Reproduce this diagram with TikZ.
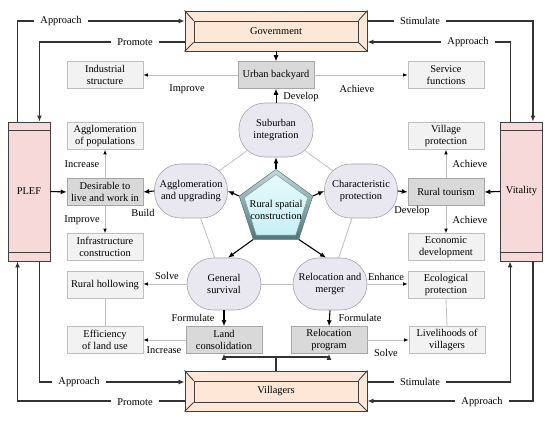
\documentclass[tikz,border=0pt]{standalone}
\usepackage{fontspec}
\setmainfont{Liberation Serif}
\usetikzlibrary{arrows.meta,shapes.geometric,calc}
\definecolor{lgf}{HTML}{F2F2F2}
\definecolor{lgb}{HTML}{BFBFBF}
\definecolor{dgf}{HTML}{D9D9D9}
\definecolor{dgb}{HTML}{A6A6A6}
\definecolor{elf}{HTML}{E9E7F0}
\definecolor{elb}{HTML}{A5A5A5}
\definecolor{glc}{HTML}{C0C0C0}
\definecolor{loopc}{HTML}{333333}
\definecolor{peach}{HTML}{FDE7D6}
\definecolor{pinkf}{HTML}{F8D9D9}
\definecolor{bevb}{HTML}{404040}
\definecolor{pentl}{HTML}{C2DADC}
\definecolor{pentd}{HTML}{527679}
\definecolor{cyant}{HTML}{E6FAFC}
\definecolor{cyanb}{HTML}{C6F0F5}
\pgfdeclarelayer{bg}
\pgfsetlayers{bg,main}
\begin{document}
\begin{tikzpicture}[x=1pt,y=-1pt,
  font=\fontsize{10.4}{12.5}\selectfont,
  lbox/.style={draw=lgb, fill=lgf, minimum width=76pt, minimum height=27pt, align=center, inner sep=1pt, line width=0.6pt},
  dbox/.style={lbox, draw=dgb, fill=dgf},
  ell/.style={rectangle, rounded corners=26pt, draw=elb, fill=elf, minimum width=74pt, minimum height=54pt, inner sep=0pt, align=center, line width=0.6pt},
  bev/.style={draw=bevb, fill=peach, line width=0.9pt, inner sep=0pt},
  side/.style={draw=bevb, fill=pinkf, line width=0.9pt, inner sep=0pt, minimum width=42pt, minimum height=139pt},
  glink/.style={draw=glc, line width=0.8pt, -{Latex[length=4.5pt,width=3.5pt,black]}},
  gline/.style={draw=glc, line width=0.8pt},
  blink/.style={draw=black, line width=1.1pt, -{Latex[length=6pt,width=5pt]}},
  loopl/.style={draw=loopc, line width=1.1pt, -{Latex[length=6pt,width=5pt]}},
  lab/.style={inner sep=1pt},
  llab/.style={fill=white, inner xsep=6pt, inner ysep=1pt},
]
\useasboundingbox (0,0) rectangle (550,425);

% ---- bevel boxes ----
\node[bev, minimum width=182pt, minimum height=40pt] (gov) at (276,31) {};
\node[bev, minimum width=164pt, minimum height=21pt] (govi) at (276,31.5) {Government};
\draw[bevb, line width=0.9pt] (gov.north west) -- (govi.north west) (gov.north east) -- (govi.north east)
  (gov.south west) -- (govi.south west) (gov.south east) -- (govi.south east);

\node[bev, minimum width=182pt, minimum height=40pt] (vil) at (276,391) {};
\node[bev, minimum width=164pt, minimum height=21pt] (vili) at (276,391.5) {Villagers};
\draw[bevb, line width=0.9pt] (vil.north west) -- (vili.north west) (vil.north east) -- (vili.north east)
  (vil.south west) -- (vili.south west) (vil.south east) -- (vili.south east);

% ---- side boxes ----
\node[side] (plef) at (29,191.5) {PLEF};
\draw[bevb, line width=0.9pt] ([yshift=-9pt]plef.north west) -- ([yshift=-9pt]plef.north east)
  ([yshift=9pt]plef.south west) -- ([yshift=9pt]plef.south east);
\node[side] (vit) at (521.5,191.5) {Vitality};
\draw[bevb, line width=0.9pt] ([yshift=-9pt]vit.north west) -- ([yshift=-9pt]vit.north east)
  ([yshift=9pt]vit.south west) -- ([yshift=9pt]vit.south east);

% ---- outer loops ----
\draw[loopl] ([xshift=10pt]plef.north west) |- ([yshift=10pt]gov.west);
\draw[loopl] ([yshift=-11pt]gov.west) -| ([xshift=-11pt]plef.north east);
\draw[loopl] ([yshift=10pt]gov.east) -| ([xshift=-10pt]vit.north east);
\draw[loopl] ([xshift=10pt]vit.north west) |- ([yshift=-11pt]gov.east);
\draw[loopl] ([xshift=-11pt]plef.south east) |- ([yshift=9pt]vil.west);
\draw[loopl] ([yshift=-10pt]vil.west) -| ([xshift=10pt]plef.south west);
\draw[loopl] ([yshift=9pt]vil.east) -| ([xshift=10pt]vit.south west);
\draw[loopl] ([xshift=-10pt]vit.south east) |- ([yshift=-10pt]vil.east);
\node[llab] (l1) at (61,21) {Approach};
\node[llab] (l2) at (135,42) {Promote};
\node[llab] (l3) at (420,21) {Stimulate};
\node[llab] (l4) at (468,42) {Approach};
\node[llab] (l5) at (79,382) {Approach};
\node[llab] (l6) at (135,402) {Promote};
\node[llab] (l7) at (420,382) {Stimulate};
\node[llab] (l8) at (482,402) {Approach};

% ---- boxes ----
\node[dbox] (ub) at (276,75) {Urban backyard};
\node[lbox] (ind) at (105,75) {Industrial\\structure};
\node[lbox] (sf) at (446,75) {Service\\functions};
\node[lbox] (ap) at (105,136) {Agglomeration\\of populations};
\node[dbox] (des) at (105,192) {Desirable to\\live and work in};
\node[lbox] (inf) at (105,247) {Infrastructure\\construction};
\node[lbox] (rh) at (105,285) {Rural hollowing};
\node[lbox] (eff) at (105,340) {Efficiency\\of land use};
\node[dbox] (lc) at (224,340) {Land\\consolidation};
\node[dbox] (rp) at (329,340) {Relocation\\program};
\node[lbox] (liv) at (447,340) {Livelihoods of\\villagers};
\node[lbox] (eco) at (446,285) {Ecological\\protection};
\node[lbox] (ed) at (446,247) {Economic\\development};
\node[dbox] (rt) at (446,192) {Rural tourism};
\node[lbox] (vp) at (446,136) {Village\\protection};

% ---- rounded ring nodes ----
\node[ell] (sub) at (276,130) {Suburban\\integration};
\node[ell, minimum width=73pt] (agg) at (191,191) {Agglomeration\\and upgrading};
\node[ell, minimum width=73pt] (cp) at (361,191) {Characteristic\\protection};
\node[ell, minimum height=52pt] (gs) at (224,284) {General\\survival};
\node[ell, minimum height=52pt] (rm) at (330,284) {Relocation and\\merger};

\begin{pgfonlayer}{bg}
\draw[gline] (sub.center) -- (agg.center);
\draw[gline] (sub.center) -- (cp.center);
\draw[gline] (agg.center) -- (gs.center);
\draw[gline] (cp.center) -- (rm.center);
\draw[gline] (gs.center) -- (rm.center);
\end{pgfonlayer}

% ---- pentagon ----
\node[regular polygon, regular polygon sides=5, minimum size=77.4pt, inner sep=0pt,
  draw=pentd, top color=pentl, bottom color=pentd, line width=0.5pt] (pent) at (276,208) {};
\node[regular polygon, regular polygon sides=5, minimum size=67pt, inner sep=0pt,
  draw=pentd!80, top color=cyant, bottom color=cyanb, line width=0.4pt] (penti) at (276,208) {};
\node[align=center] (pentt) at (276,210) {Rural spatial\\construction};

\draw[blink] (pent.corner 1) -- (sub.south);
\draw[blink] (pent.corner 2) -- (agg.east);
\draw[blink] (pent.corner 5) -- (cp.west);
\draw[blink] (pent.corner 3) -- ([xshift=4pt]gs.north);
\draw[blink] (pent.corner 4) -- ([xshift=-4pt]rm.north);

% ---- inner connectors ----
\draw[blink, line width=0.9pt] (gov.south) -- (ub.north);
\draw[blink, line width=0.9pt] (sub.north) -- (ub.south);
\draw[glink] (ub.west) -- (ind.east);
\draw[glink] (ub.east) -- (sf.west);
\draw[blink] (plef.east) -- (des.west);
\draw[blink] (agg.west) -- (des.east);
\draw[glink] (des.north) -- (ap.south);
\draw[glink] (des.south) -- (inf.north);
\draw[blink] (cp.east) -- (rt.west);
\draw[blink] (vit.west) -- (rt.east);
\draw[glink] (rt.north) -- (vp.south);
\draw[glink] (rt.south) -- (ed.north);
\draw[glink] (gs.west) -- (gs.west -| rh.east);
\draw[gline] (rh.south) -- (eff.north);
\draw[blink] (gs.south) -- (lc.north);
\draw[glink] (lc.west) -- (eff.east);
\draw[glink] (rm.east) -- (rm.east -| eco.west);
\draw[gline] (eco.south) -- (liv.north);
\draw[blink] (rm.south) -- (rp.north);
\draw[glink] (rp.east) -- (liv.west);
\coordinate (split) at (276,357);
\draw[loopl, -] (vil.north) -- (split);
\draw[loopl] (split) -| (lc.south);
\draw[loopl] (split) -| (rp.south);

% ---- labels ----
\node[lab] (t1) at (187,89) {Improve};
\node[lab] (t2) at (357,89) {Achieve};
\node[lab] (t3) at (301,97) {Develop};
\node[lab] (t4) at (82,164) {Increase};
\node[lab] (t5) at (82,220) {Improve};
\node[lab] (t6) at (143,213) {Build};
\node[lab] (t7) at (470,164) {Achieve};
\node[lab] (t8) at (470,220) {Achieve};
\node[lab] (t9) at (412,211) {Develop};
\node[lab] (t10) at (167,276) {Solve};
\node[lab] (t11) at (193,318) {Formulate};
\node[lab] (t12) at (164,350) {Increase};
\node[lab] (t13) at (386,277) {Enhance};
\node[lab] (t14) at (360,318) {Formulate};
\node[lab] (t15) at (386,353) {Solve};
\end{tikzpicture}
\end{document}
